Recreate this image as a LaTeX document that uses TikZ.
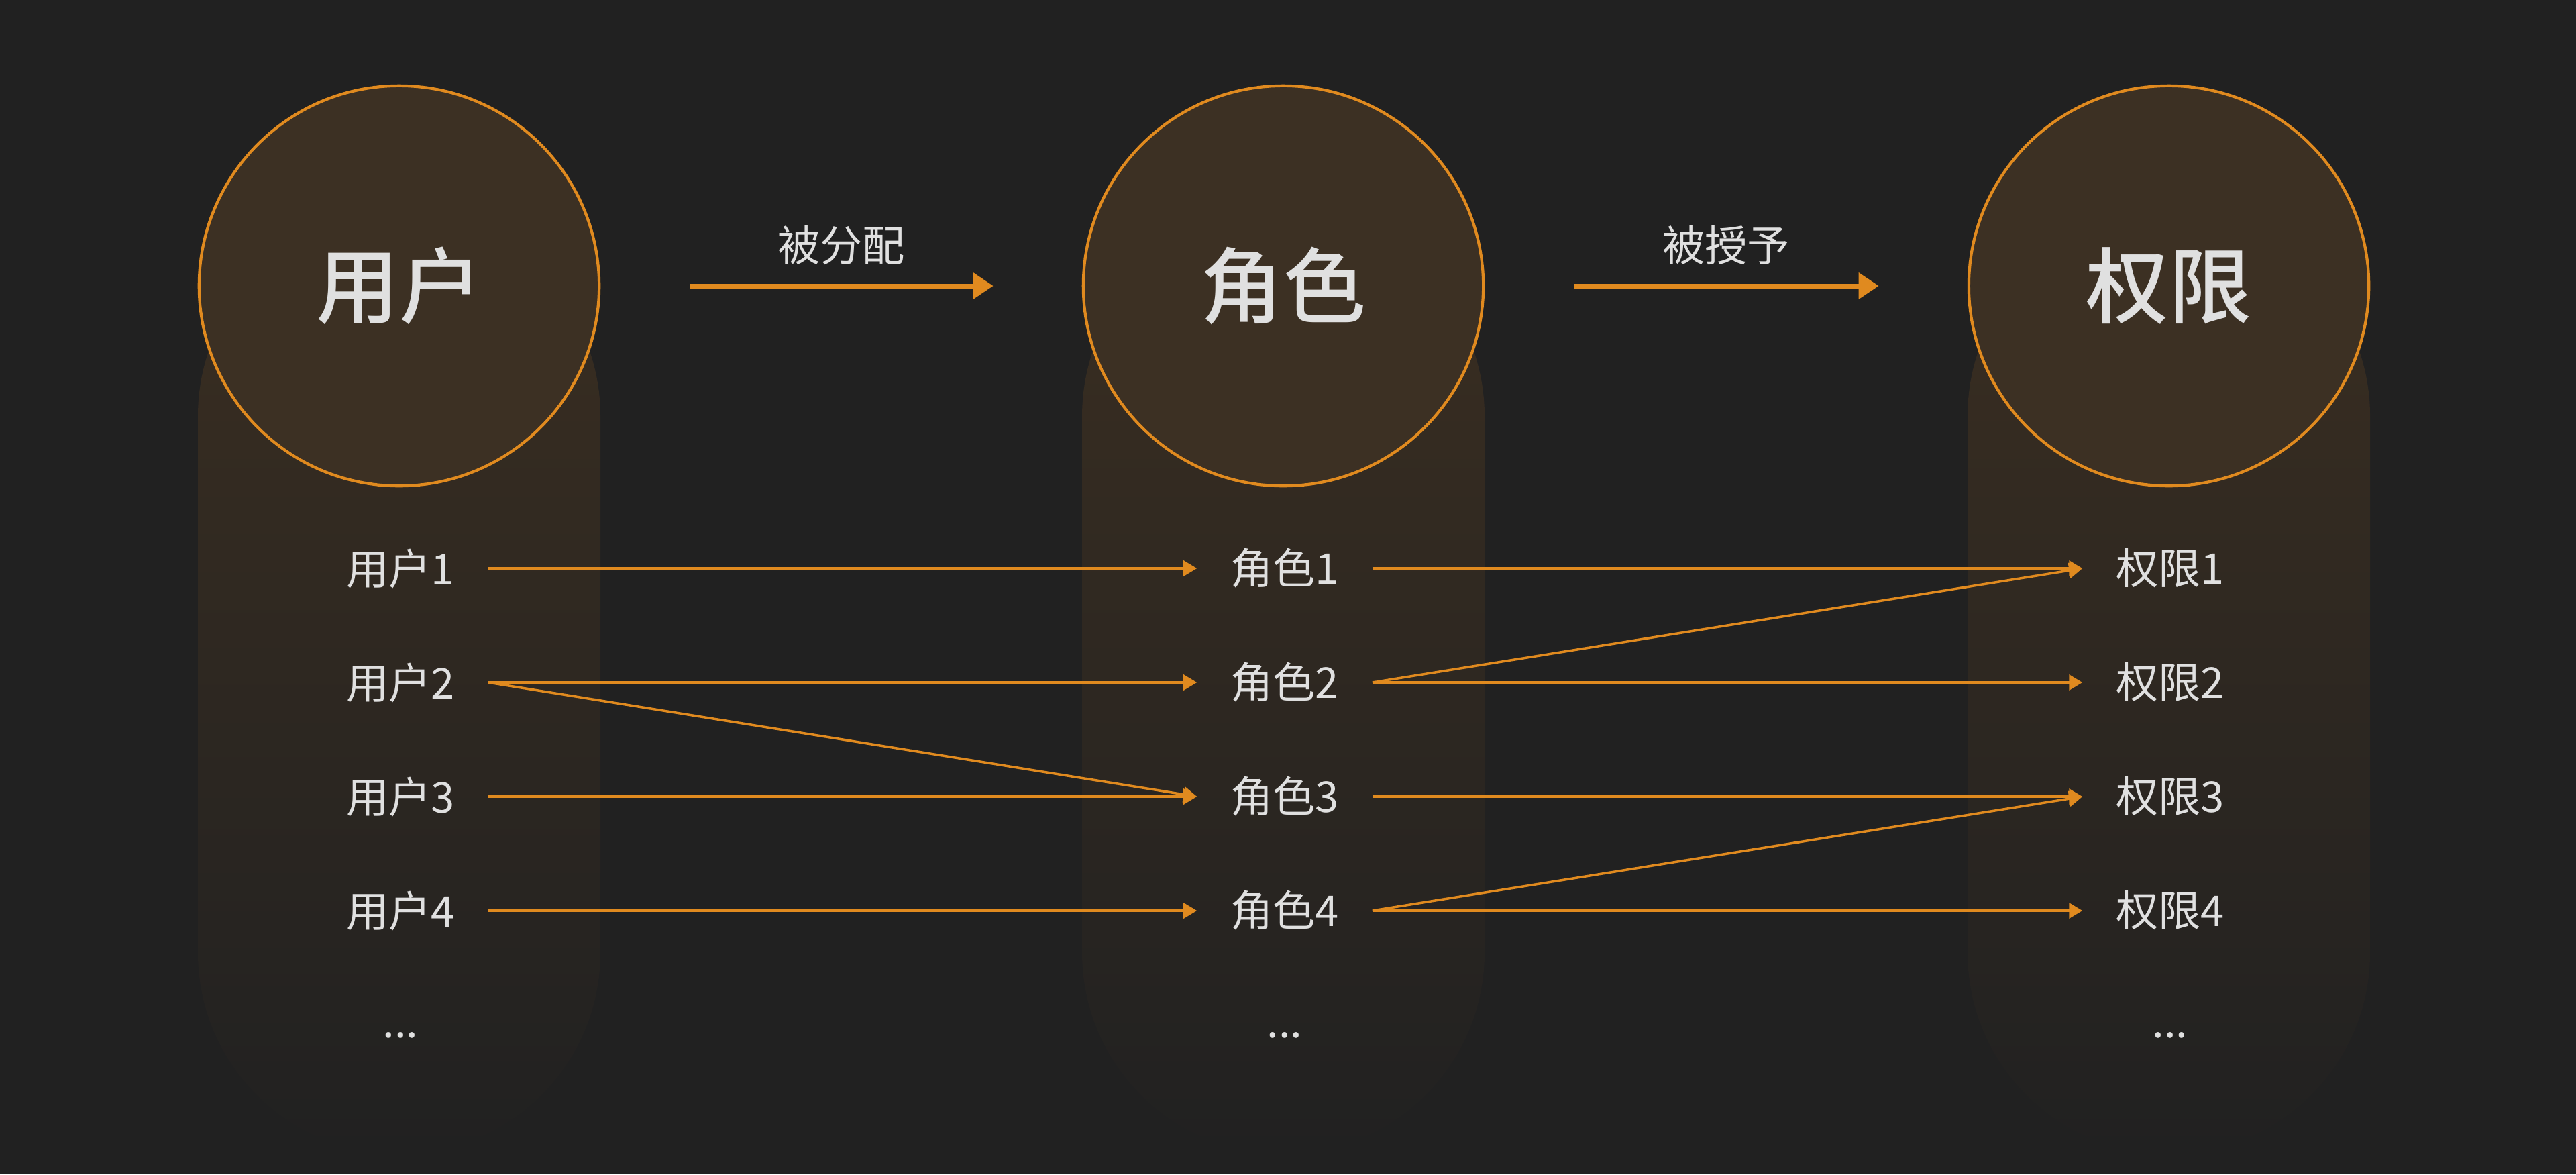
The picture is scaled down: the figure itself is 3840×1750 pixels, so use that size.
\documentclass[tikz,border=0pt]{standalone}
\usepackage{fontspec}
\setmainfont{Noto Sans CJK SC}
\newfontfamily\headfont{Noto Sans CJK SC Medium}
\usetikzlibrary{arrows.meta,positioning}

\definecolor{bgdark}{HTML}{212121}
\definecolor{accent}{HTML}{E08A1F}
\definecolor{circfill}{HTML}{3C3023}
\definecolor{lanetop}{HTML}{3A2E21}
\definecolor{txtgray}{HTML}{E0E0E0}

\begin{document}
\begin{tikzpicture}[
  x=0.01cm, y=-0.01cm,
  head/.style={circle, draw=accent, line width=1.2pt, fill=circfill, minimum size=5.96cm, text=txtgray, font=\fontsize{35pt}{40pt}\headfont},
  item/.style={minimum width=2.6cm, inner sep=0pt, text=txtgray, font=\fontsize{18pt}{22pt}\selectfont},
  link/.style={-{Triangle[length=0.2cm, width=0.23cm]}, draw=accent, line width=1pt},
  bigarrow/.style={-{Triangle[length=0.3cm, width=0.38cm]}, draw=accent, line width=2pt, shorten <=1.33cm, shorten >=1.32cm},
  lane/.style={rounded corners=3cm, top color=lanetop, bottom color=bgdark}
]
  \fill[bgdark] (0,0) rectangle (3840,1750);

  % columns behind the circles
  \path[lane] (295,320) rectangle (895,1720);
  \path[lane] (1613,320) rectangle (2213,1720);
  \path[lane] (2933,320) rectangle (3533,1720);

  \node[head] (user) at (595,426) {用户};
  \node[head] (role) at (1913,426) {角色};
  \node[head] (perm) at (3233,426) {权限};

  \draw[bigarrow] (user) -- node[item, above=0.28cm] (assign) {被分配} (role);
  \draw[bigarrow] (role) -- node[item, above=0.28cm] (grant) {被授予} (perm);

  \node[item] (u1) at (597,847) {用户1};
  \node[item] (u2) at (597,1017) {用户2};
  \node[item] (u3) at (597,1187) {用户3};
  \node[item] (u4) at (597,1357) {用户4};
  \node[item] (udots) at (597,1543) {...};

  \node[item] (r1) at (1915,847) {角色1};
  \node[item] (r2) at (1915,1017) {角色2};
  \node[item] (r3) at (1915,1187) {角色3};
  \node[item] (r4) at (1915,1357) {角色4};
  \node[item] (rdots) at (1915,1543) {...};

  \node[item] (p1) at (3235,847) {权限1};
  \node[item] (p2) at (3235,1017) {权限2};
  \node[item] (p3) at (3235,1187) {权限3};
  \node[item] (p4) at (3235,1357) {权限4};
  \node[item] (pdots) at (3235,1543) {...};

  % users to roles
  \draw[link] (u1.east) -- (r1.west);
  \draw[link] (u2.east) -- (r2.west);
  \draw[link] (u2.east) -- (r3.west);
  \draw[link] (u3.east) -- (r3.west);
  \draw[link] (u4.east) -- (r4.west);

  % roles to permissions
  \draw[link] (r1.east) -- (p1.west);
  \draw[link] (r2.east) -- (p1.west);
  \draw[link] (r2.east) -- (p2.west);
  \draw[link] (r3.east) -- (p3.west);
  \draw[link] (r4.east) -- (p3.west);
  \draw[link] (r4.east) -- (p4.west);
\end{tikzpicture}
\end{document}
